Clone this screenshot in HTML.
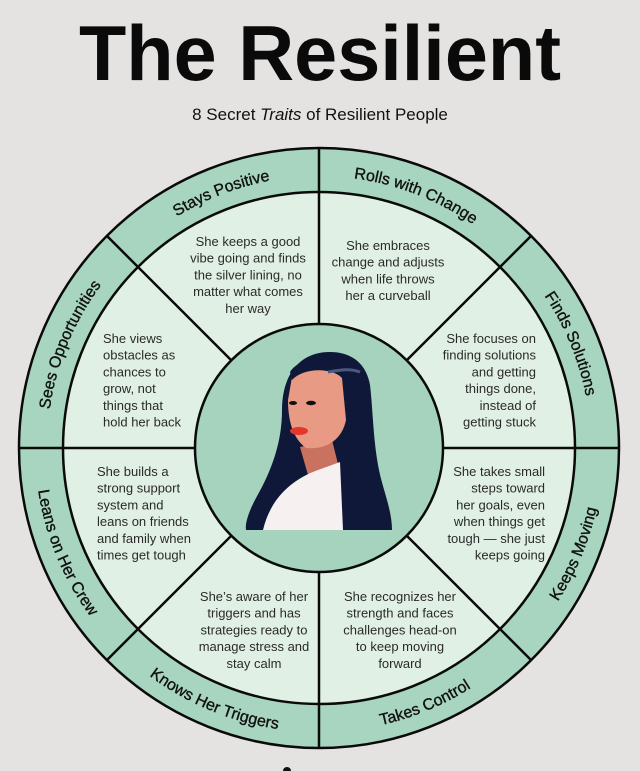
<!DOCTYPE html>
<html><head><meta charset="utf-8"><style>
html,body{margin:0;padding:0;background:#e4e3e1;}
svg{display:block}
.b{font-family:"Liberation Sans",sans-serif;font-size:13px;fill:#2a2a2a;}
.l{font-family:"Liberation Sans",sans-serif;font-size:16px;fill:#111;stroke:#111;stroke-width:0.35;}
</style></head><body>
<svg width="640" height="771" viewBox="0 0 640 771" xmlns="http://www.w3.org/2000/svg">
<rect width="640" height="771" fill="#e4e3e1"/>
<text x="320" y="80" text-anchor="middle" font-family="Liberation Sans, sans-serif" font-weight="bold" font-size="78" fill="#0a0a0a" textLength="482" lengthAdjust="spacingAndGlyphs">The Resilient</text>
<text x="320" y="120" text-anchor="middle" font-family="Liberation Sans, sans-serif" font-size="17" fill="#111">8 Secret <tspan font-style="italic">Traits</tspan> of Resilient People</text>

<circle cx="319" cy="448" r="300" fill="#a8d5bf" stroke="#0a0a0a" stroke-width="2.5"/>
<circle cx="319" cy="448" r="256" fill="#e1f0e4" stroke="#0a0a0a" stroke-width="2.5"/>
<g stroke="#0a0a0a" stroke-width="2.5">
<line x1="319" y1="148" x2="319" y2="748"/>
<line x1="19" y1="448" x2="619" y2="448"/>
<line x1="106.9" y1="235.9" x2="531.1" y2="660.1"/>
<line x1="531.1" y1="235.9" x2="106.9" y2="660.1"/>
</g>
<circle cx="319" cy="448" r="124" fill="#a6d3bd" stroke="#0a0a0a" stroke-width="2.5"/>

<!-- portrait -->
<path d="M330 352 C297 352 282 378 282 410 C282 442 272 470 256 498 C248 513 245 524 246 530 L392 530 C392 510 383 490 379 470 C373 440 373 410 370 385 C366 362 350 352 330 352 Z" fill="#0f1838"/>
<path d="M300 447 L332 440 L340 472 L310 482 Z" fill="#c9725f"/>
<path d="M292 377 C302 365 330 366 342 378 L346 420 C342 440 326 450 306 448 C295 440 288 425 288 400 Z" fill="#e99a85"/>
<path d="M290 372 C300 356 330 356 345 372 L345 380 C335 368 305 366 292 380 Z" fill="#0f1838"/>
<path d="M328 372 C340 370 350 368 360 372" stroke="#4a5a80" stroke-width="3" fill="none"/>
<ellipse cx="299" cy="431" rx="9" ry="4" fill="#e2382a"/>
<ellipse cx="293" cy="403" rx="4" ry="2" fill="#111"/>
<ellipse cx="311" cy="403" rx="5" ry="2.2" fill="#111"/>
<path d="M263 530 C270 500 290 480 318 470 L340 462 L343 530 Z" fill="#f7f0f1"/>

<defs>
<path id="p1" d="M 137.6 246.1 A 272 272 0 0 1 319 176"/>
<path id="p2" d="M 319 176 A 272 272 0 0 1 500.4 246.1"/>
<path id="p3" d="M 511.3 255.7 A 272 272 0 0 1 591 448"/>
<path id="p8" d="M 47 448 A 272 272 0 0 1 126.7 255.7"/>
<path id="p7" d="M 35 448 A 284 284 0 0 0 118.2 648.8"/>
<path id="p6" d="M 118.2 648.8 A 284 284 0 0 0 319 732"/>
<path id="p5" d="M 319 732 A 284 284 0 0 0 519.8 648.8"/>
<path id="p4" d="M 519.8 648.8 A 284 284 0 0 0 603 448"/>
</defs>
<text class="l"><textPath href="#p1" startOffset="50%" text-anchor="middle">Stays Positive</textPath></text>
<text class="l"><textPath href="#p2" startOffset="50%" text-anchor="middle">Rolls with Change</textPath></text>
<text class="l"><textPath href="#p3" startOffset="50%" text-anchor="middle">Finds Solutions</textPath></text>
<text class="l"><textPath href="#p8" startOffset="50%" text-anchor="middle">Sees Opportunities</textPath></text>
<text class="l"><textPath href="#p7" startOffset="50%" text-anchor="middle">Leans on Her Crew</textPath></text>
<text class="l"><textPath href="#p6" startOffset="50%" text-anchor="middle">Knows Her Triggers</textPath></text>
<text class="l"><textPath href="#p5" startOffset="50%" text-anchor="middle">Takes Control</textPath></text>
<text class="l"><textPath href="#p4" startOffset="50%" text-anchor="middle">Keeps Moving</textPath></text>

<text class="b" text-anchor="middle">
<tspan x="248" y="246">She keeps a good</tspan><tspan x="248" y="262.7">vibe going and finds</tspan><tspan x="248" y="279.4">the silver lining, no</tspan><tspan x="248" y="296.1">matter what comes</tspan><tspan x="248" y="312.8">her way</tspan></text>
<text class="b" text-anchor="middle">
<tspan x="388" y="250">She embraces</tspan><tspan x="388" y="266.7">change and adjusts</tspan><tspan x="388" y="283.4">when life throws</tspan><tspan x="388" y="300.1">her a curveball</tspan></text>
<text class="b" text-anchor="end">
<tspan x="536" y="343">She focuses on</tspan><tspan x="536" y="359.7">finding solutions</tspan><tspan x="536" y="376.4">and getting</tspan><tspan x="536" y="393.1">things done,</tspan><tspan x="536" y="409.8">instead of</tspan><tspan x="536" y="426.5">getting stuck</tspan></text>
<text class="b">
<tspan x="103" y="343">She views</tspan><tspan x="103" y="359.7">obstacles as</tspan><tspan x="103" y="376.4">chances to</tspan><tspan x="103" y="393.1">grow, not</tspan><tspan x="103" y="409.8">things that</tspan><tspan x="103" y="426.5">hold her back</tspan></text>
<text class="b">
<tspan x="97" y="476">She builds a</tspan><tspan x="97" y="492.7">strong support</tspan><tspan x="97" y="509.4">system and</tspan><tspan x="97" y="526.1">leans on friends</tspan><tspan x="97" y="542.8">and family when</tspan><tspan x="97" y="559.5">times get tough</tspan></text>
<text class="b" text-anchor="end">
<tspan x="545" y="476">She takes small</tspan><tspan x="545" y="492.7">steps toward</tspan><tspan x="545" y="509.4">her goals, even</tspan><tspan x="545" y="526.1">when things get</tspan><tspan x="545" y="542.8">tough — she just</tspan><tspan x="545" y="559.5">keeps going</tspan></text>
<text class="b" text-anchor="middle">
<tspan x="254" y="601">She’s aware of her</tspan><tspan x="254" y="617.7">triggers and has</tspan><tspan x="254" y="634.4">strategies ready to</tspan><tspan x="254" y="651.1">manage stress and</tspan><tspan x="254" y="667.8">stay calm</tspan></text>
<text class="b" text-anchor="middle">
<tspan x="400" y="601">She recognizes her</tspan><tspan x="400" y="617.7">strength and faces</tspan><tspan x="400" y="634.4">challenges head-on</tspan><tspan x="400" y="651.1">to keep moving</tspan><tspan x="400" y="667.8">forward</tspan></text>
<circle cx="287" cy="771" r="4" fill="#111"/>
</svg>
</body></html>
